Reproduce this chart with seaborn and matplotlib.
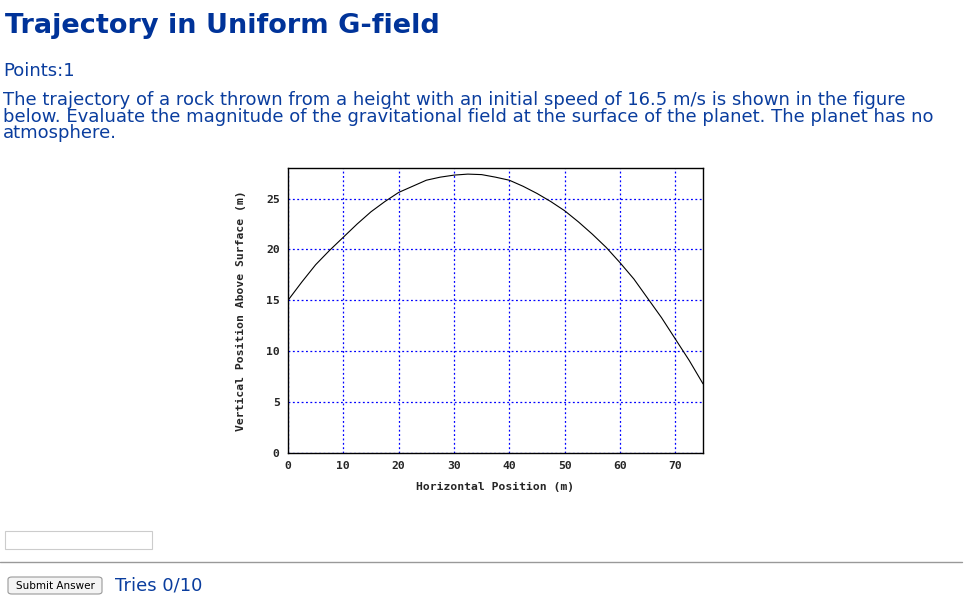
import matplotlib
matplotlib.use("Agg")
import matplotlib.pyplot as plt
import seaborn as sns
import pandas as pd
from matplotlib.patches import Rectangle, FancyBboxPatch
from matplotlib.lines import Line2D

x_pos = [0, 2.5, 5, 7.5, 10, 12.5, 15, 17.5, 20, 22.5, 25, 27.5, 30, 32.5, 35, 37.5,
         40, 42.5, 45, 47.5, 50, 52.5, 55, 57.5, 60, 62.5, 65, 67.5, 70, 72.5, 75]
y_pos = [15, 16.8, 18.5, 19.9, 21.2, 22.5, 23.7, 24.7, 25.6, 26.2, 26.8, 27.1, 27.3, 27.4, 27.35, 27.1,
         26.8, 26.2, 25.5, 24.7, 23.8, 22.7, 21.5, 20.2, 18.7, 17.1, 15.2, 13.3, 11.2, 9.1, 6.8]
x_ticks = [0, 10, 20, 30, 40, 50, 60, 70]
y_ticks = [0, 5, 10, 15, 20, 25]

sns.set_style("white")
plt.rcParams['font.family'] = ['DejaVu Sans']
W, H = 971, 605
fig = plt.figure(figsize=(W/100, H/100), dpi=100)
blue = "#0a3d9e"

def fy(py): return 1 - py / H
def fx(px): return px / W

fig.text(fx(5), fy(26), "Trajectory in Uniform G-field", fontsize=19.5, fontweight="bold", color="#003399", va="center")
fig.text(fx(3), fy(71), "Points:1", fontsize=13, color=blue, va="center")
para = ["The trajectory of a rock thrown from a height with an initial speed of 16.5 m/s is shown in the figure",
        "below. Evaluate the magnitude of the gravitational field at the surface of the planet. The planet has no",
        "atmosphere."]
for i, line in enumerate(para):
    fig.text(fx(3), fy(100 + 16.5 * i), line, fontsize=13, color=blue, va="center")

ax = fig.add_axes([fx(288), fy(453), (703 - 288) / W, (453 - 168) / H])
df = pd.DataFrame({"x": x_pos, "y": y_pos})
sns.lineplot(data=df, x="x", y="y", ax=ax, color="black", linewidth=0.8)
ax.set_xlim(0, 75)
ax.set_ylim(0, 28)
ax.set_xticks(x_ticks)
ax.set_yticks(y_ticks)
ax.grid(True, color="blue", linestyle=(0, (1.5, 2)), linewidth=0.9)
for s in ax.spines.values():
    s.set_color("black"); s.set_linewidth(1)
mono = dict(family="DejaVu Sans Mono", fontweight="bold", fontsize=8.2)
ax.set_xticklabels([str(t) for t in x_ticks], **mono)
ax.set_yticklabels([str(t) for t in y_ticks], **mono)
ax.tick_params(axis="both", length=0, pad=6)
ax.set_xlabel("Horizontal Position (m)", **mono, labelpad=8)
ax.set_ylabel("Vertical Position Above Surface (m)", **mono, labelpad=14)

fig.patches.append(Rectangle((fx(5), fy(549)), (152 - 5) / W, 18 / H, transform=fig.transFigure,
                             facecolor="white", edgecolor="#cccccc", linewidth=0.8))
fig.lines.append(Line2D([0, fx(962)], [fy(562), fy(562)], transform=fig.transFigure, color="#999999", linewidth=1))
fig.patches.append(FancyBboxPatch((fx(8), fy(594)), 94 / W, 17 / H, boxstyle="round,pad=0,rounding_size=0.004",
                                  transform=fig.transFigure, facecolor="#f4f4f4", edgecolor="#999999", linewidth=0.8))
fig.text(fx(55), fy(586), "Submit Answer", fontsize=7.5, color="black", ha="center", va="center")
fig.text(fx(115), fy(585), "Tries 0/10", fontsize=13, color=blue, va="center")

fig.savefig("out.png", dpi=100)
